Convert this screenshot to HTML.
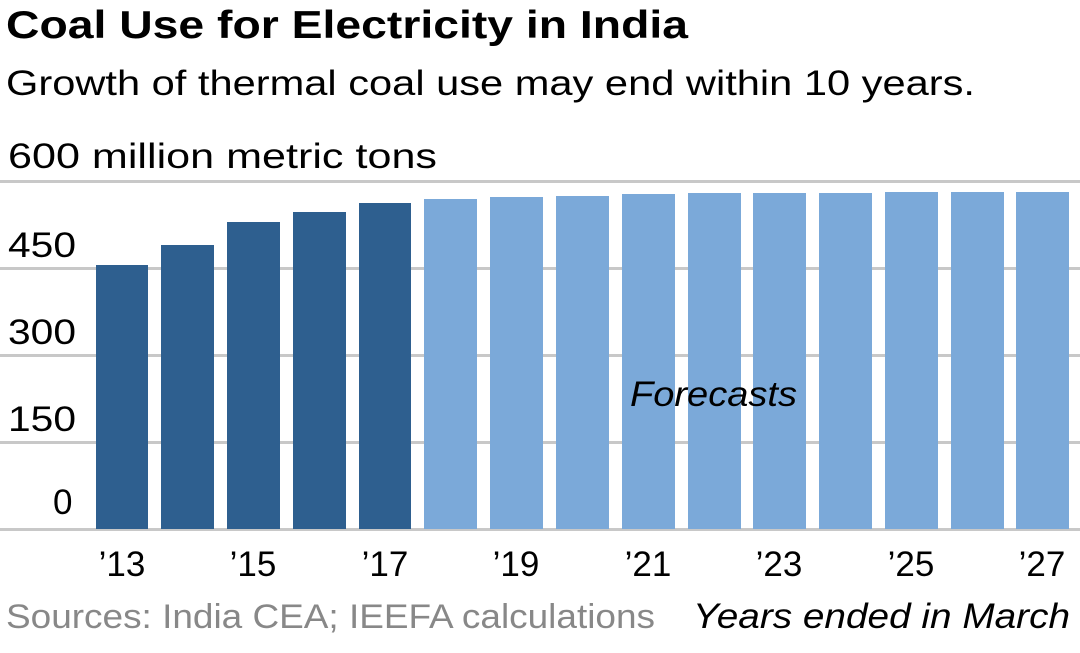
<!DOCTYPE html>
<html><head><style>
body{margin:0;width:1080px;height:648px;background:#fff;overflow:hidden;font-family:"Liberation Sans",sans-serif}
</style></head><body>
<svg width="1080" height="648" xmlns="http://www.w3.org/2000/svg" font-family="Liberation Sans, sans-serif">
<text x="6" y="38" font-size="39" font-weight="bold" fill="#000" textLength="682" lengthAdjust="spacingAndGlyphs">Coal Use for Electricity in India</text>
<text x="6" y="95" font-size="35" fill="#000" textLength="969" lengthAdjust="spacingAndGlyphs">Growth of thermal coal use may end within 10 years.</text>
<text x="8" y="168" font-size="35" fill="#000" textLength="429" lengthAdjust="spacingAndGlyphs">600 million metric tons</text>
<g fill="#c8c8c8">
<rect x="0" y="180" width="1080" height="3"/>
<rect x="0" y="267" width="1080" height="3"/>
<rect x="0" y="354" width="1080" height="3"/>
<rect x="0" y="441" width="1080" height="3"/>
<rect x="0" y="528" width="1080" height="3"/>
</g>
<g font-size="35" fill="#000">
<text x="8" y="257" textLength="68" lengthAdjust="spacingAndGlyphs">450</text>
<text x="8" y="344" textLength="68" lengthAdjust="spacingAndGlyphs">300</text>
<text x="8" y="431" textLength="68" lengthAdjust="spacingAndGlyphs">150</text>
<text x="53" y="514">0</text>
</g>
<g fill="#2e5f8f">
<rect x="96" y="265" width="52" height="264"/>
<rect x="161" y="245" width="53" height="284"/>
<rect x="227" y="222" width="53" height="307"/>
<rect x="293" y="212" width="53" height="317"/>
<rect x="359" y="203" width="52" height="326"/>
</g>
<g fill="#7ba9d9">
<rect x="424" y="199" width="53" height="330"/>
<rect x="490" y="197" width="53" height="332"/>
<rect x="556" y="196" width="53" height="333"/>
<rect x="622" y="194" width="53" height="335"/>
<rect x="688" y="193" width="53" height="336"/>
<rect x="753" y="193" width="53" height="336"/>
<rect x="819" y="193" width="53" height="336"/>
<rect x="885" y="192" width="53" height="337"/>
<rect x="951" y="192" width="53" height="337"/>
<rect x="1016" y="192" width="53" height="337"/>
</g>
<text x="630" y="406" font-size="35" font-style="italic" fill="#000" textLength="167" lengthAdjust="spacingAndGlyphs">Forecasts</text>
<g font-size="35" fill="#000" text-anchor="middle">
<text x="122" y="576">’13</text>
<text x="253" y="576">’15</text>
<text x="385" y="576">’17</text>
<text x="516" y="576">’19</text>
<text x="648" y="576">’21</text>
<text x="779" y="576">’23</text>
<text x="911" y="576">’25</text>
<text x="1042" y="576">’27</text>
</g>
<text x="6" y="628" font-size="34" fill="#888" textLength="649" lengthAdjust="spacingAndGlyphs">Sources: India CEA; IEEFA calculations</text>
<text x="693" y="628" font-size="35" font-style="italic" fill="#000" textLength="377" lengthAdjust="spacingAndGlyphs">Years ended in March</text>
</svg>
</body></html>
